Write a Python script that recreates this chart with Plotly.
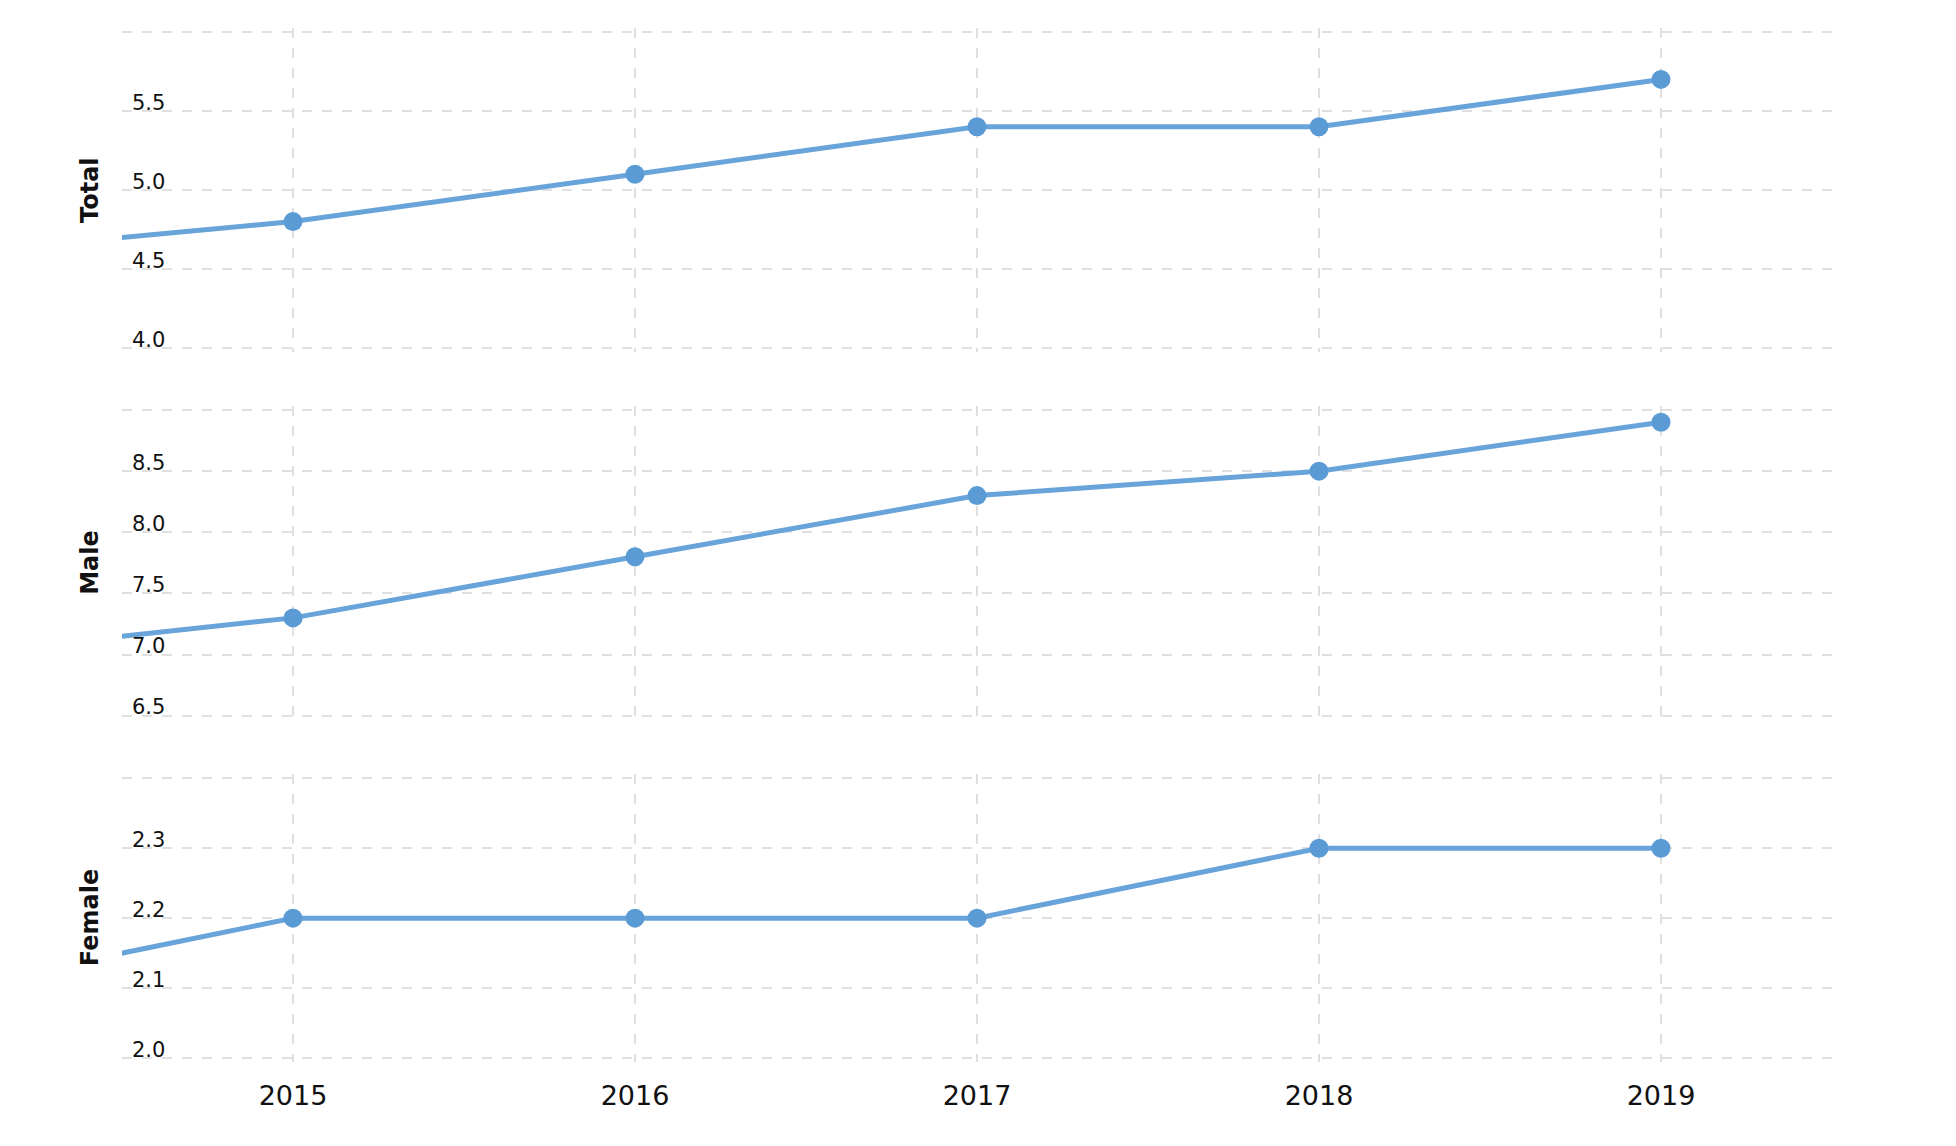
import plotly.graph_objects as go

years = [2014, 2015, 2016, 2017, 2018, 2019]
total = [4.6, 4.8, 5.1, 5.4, 5.4, 5.7]
male = [7.0, 7.3, 7.8, 8.3, 8.5, 8.9]
female = [2.1, 2.2, 2.2, 2.2, 2.3, 2.3]

panel_names = ["Total", "Male", "Female"]
total_ticks = [4.0, 4.5, 5.0, 5.5, 6.0]
total_labels = ["4.0", "4.5", "5.0", "5.5", ""]
male_ticks = [6.5, 7.0, 7.5, 8.0, 8.5, 9.0]
male_labels = ["6.5", "7.0", "7.5", "8.0", "8.5", ""]
female_ticks = [2.0, 2.1, 2.2, 2.3, 2.4]
female_labels = ["2.0", "2.1", "2.2", "2.3", ""]
x_ticks = [2015, 2016, 2017, 2018, 2019]

W, H = 1956, 1146
ML, MR, MT, MB = 122, 124, 28, 84
ph = H - MT - MB
PAD = 4  # px of extra room so edge gridlines are drawn

def dom(top_px, bot_px):
    top_px -= PAD
    bot_px += PAD
    return [(H - MB - bot_px) / ph, (H - MB - top_px) / ph]

panel_px = [(32, 348), (410, 715.7), (778.3, 1058)]
domains = [dom(a, b) for a, b in panel_px]

series = [total, male, female]
ticks = [total_ticks, male_ticks, female_ticks]
labels = [total_labels, male_labels, female_labels]

LINE = "#68a4da"
MARK = "#5b9bd5"
GRID = "#e0e0e0"
FONT = "DejaVu Sans"

fig = go.Figure()
layout = dict(
    width=W, height=H,
    margin=dict(l=ML, r=MR, t=MT, b=MB),
    paper_bgcolor="white", plot_bgcolor="white",
    showlegend=False,
    font=dict(family=FONT, color="#111111"),
)

for i in range(3):
    sfx = "" if i == 0 else str(i + 1)
    lo, hi = ticks[i][0], ticks[i][-1]
    span_px = panel_px[i][1] - panel_px[i][0]
    eps = (hi - lo) * PAD / span_px
    fig.add_trace(go.Scatter(
        x=years, y=series[i], mode="lines+markers",
        xaxis="x" + sfx, yaxis="y" + sfx,
        line=dict(color=LINE, width=5),
        marker=dict(color=MARK, size=19),
        cliponaxis=True,
        hoverinfo="x+y",
    ))
    layout["xaxis" + sfx] = dict(
        domain=[0, 1], anchor="y" + sfx,
        range=[2014.5, 2019.5],
        tickvals=x_ticks, ticktext=[str(v) for v in x_ticks],
        showticklabels=(i == 2),
        showgrid=True, gridcolor=GRID, gridwidth=2, griddash="10px,10px",
        zeroline=False, showline=False, ticks="",
        tickfont=dict(size=27, family=FONT, color="#111111"),
        ticklabelstandoff=15,
        matches=None if i == 0 else "x",
    )
    layout["yaxis" + sfx] = dict(
        domain=domains[i], anchor="x" + sfx,
        range=[lo - eps, hi + eps],
        tickvals=ticks[i], ticktext=labels[i],
        ticklabelposition="inside top",
        ticklabelstandoff=7,
        ticklabelshift=6,
        showgrid=True, gridcolor=GRID, gridwidth=2, griddash="10px,10px",
        zeroline=False, showline=False, ticks="",
        tickfont=dict(size=21, family=FONT, color="#111111"),
    )

fig.update_layout(**layout)

for i, name in enumerate(panel_names):
    fig.add_annotation(
        text="<b>" + name + "</b>",
        xref="paper", yref="paper",
        x=(90 - ML) / (W - ML - MR), y=sum(domains[i]) / 2,
        xanchor="center", yanchor="middle",
        textangle=-90, showarrow=False,
        font=dict(size=24, family=FONT, color="#111111"),
    )

fig.write_html("out.html")
